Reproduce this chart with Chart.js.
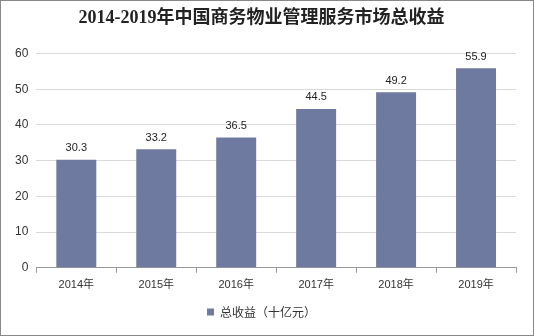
<!DOCTYPE html>
<html>
<head>
<meta charset="utf-8">
<script src="https://cdn.jsdelivr.net/npm/chart.js@4"></script>
<style>
  html, body { margin: 0; padding: 0; background: #fff; }
  #wrap { position: relative; width: 532px; height: 334px; border: 1px solid #888; }
</style>
</head>
<body>
<div id="wrap"><canvas id="revenueChart" width="532" height="334"></canvas></div>
<script>
let years = ['2014年', '2015年', '2016年', '2017年', '2018年', '2019年']
let revenue = [30.3, 33.2, 36.5, 44.5, 49.2, 55.9]
let seriesName = '总收益（十亿元）'
let titleText = '2014-2019年中国商务物业管理服务市场总收益'
let barColor = '#6f7aa0'

let ctx = document.getElementById('revenueChart').getContext('2d')

// numbers above each bar
let valueLabels = {
  id: 'valueLabels',
  afterDatasetsDraw(chart) {
    let c = chart.ctx
    c.save()
    c.font = '11px "Liberation Sans", Arial, sans-serif'
    c.fillStyle = '#222'
    c.textAlign = 'center'
    c.textBaseline = 'bottom'
    chart.getDatasetMeta(0).data.forEach((bar, i) => {
      c.fillText(revenue[i].toFixed(1), bar.x, bar.y - 6)
    })
    c.restore()
  }
}

new Chart(ctx, {
  type: 'bar',
  data: {
    labels: years,
    datasets: [{
      label: seriesName,
      backgroundColor: barColor,
      data: revenue,
      barPercentage: 0.5,
      categoryPercentage: 1
    }]
  },
  options: {
    responsive: false,
    animation: false,
    layout: { padding: { left: 6, right: 17, top: 0, bottom: 7 } },
    plugins: {
      title: {
        display: true,
        text: titleText,
        color: '#222',
        font: { family: '"Liberation Serif", "Noto Sans CJK SC", serif', size: 18, weight: 'bold' },
        padding: { top: 7, bottom: 24 }
      },
      legend: {
        position: 'bottom',
        labels: {
          boxWidth: 7,
          boxHeight: 7,
          color: '#333',
          font: { family: '"Noto Sans CJK SC", sans-serif', size: 12 },
          padding: 8
        }
      },
      tooltip: { enabled: false }
    },
    scales: {
      x: {
        grid: { drawOnChartArea: false, color: '#999', tickLength: 5, offset: true },
        border: { color: '#999' },
        ticks: { color: '#333', padding: 6, font: { family: '"Liberation Sans", "Noto Sans CJK SC", sans-serif', size: 11 } }
      },
      y: {
        min: 0,
        max: 60,
        grid: { color: '#d9d9d9', drawTicks: false },
        border: { display: false },
        ticks: { stepSize: 10, color: '#333', padding: 8, font: { family: '"Liberation Sans", Arial, sans-serif', size: 12 } }
      }
    }
  },
  plugins: [valueLabels]
})
</script>
</body>
</html>
